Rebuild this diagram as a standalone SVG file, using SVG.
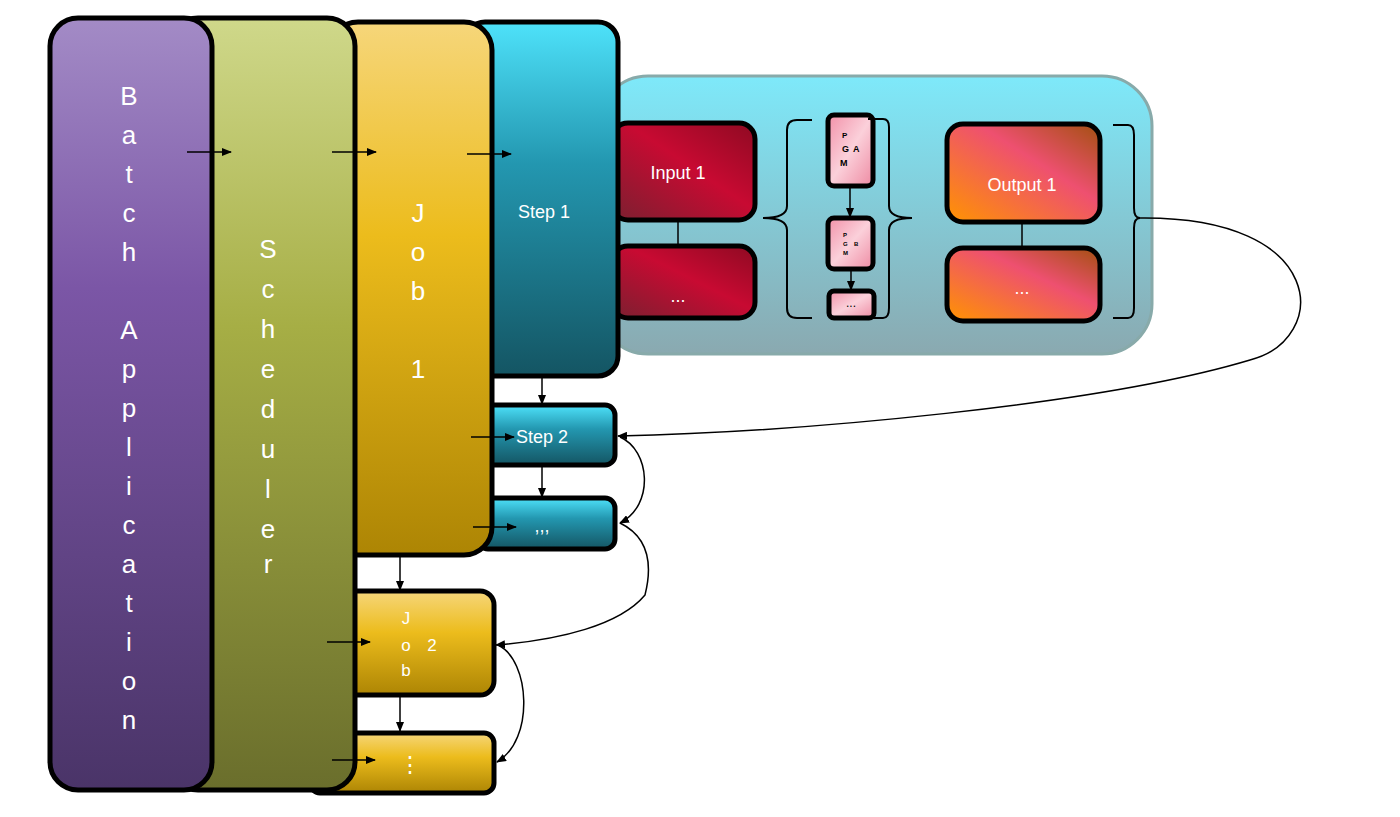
<svg xmlns="http://www.w3.org/2000/svg" width="1400" height="817" viewBox="0 0 1400 817">
<defs>
<linearGradient id="gP" x1="0" y1="0" x2="0" y2="1"><stop offset="0" stop-color="#a38bc6"/><stop offset="0.35" stop-color="#7b56a6"/><stop offset="1" stop-color="#4a3468"/></linearGradient>
<linearGradient id="gS" x1="0" y1="0" x2="0" y2="1"><stop offset="0" stop-color="#cfd88a"/><stop offset="0.4" stop-color="#a6ae45"/><stop offset="1" stop-color="#6a6e2c"/></linearGradient>
<linearGradient id="gJ" x1="0" y1="0" x2="0" y2="1"><stop offset="0" stop-color="#f6d67a"/><stop offset="0.4" stop-color="#ecbc1c"/><stop offset="1" stop-color="#ad8504"/></linearGradient>
<linearGradient id="gT" x1="0" y1="0" x2="0" y2="1"><stop offset="0" stop-color="#4ee2fa"/><stop offset="0.4" stop-color="#2397b0"/><stop offset="1" stop-color="#145563"/></linearGradient>
<linearGradient id="gL" x1="0" y1="0" x2="0" y2="1"><stop offset="0" stop-color="#7ee9fa"/><stop offset="1" stop-color="#8aa9b0"/></linearGradient>
<linearGradient id="gR" x1="0" y1="1" x2="1" y2="0"><stop offset="0" stop-color="#7a2030"/><stop offset="0.55" stop-color="#c80a32"/><stop offset="1" stop-color="#8e0a22"/></linearGradient>
<linearGradient id="gO" x1="0" y1="1" x2="1" y2="0"><stop offset="0" stop-color="#ff9400"/><stop offset="0.6" stop-color="#ee5070"/><stop offset="1" stop-color="#a35010"/></linearGradient>
<linearGradient id="gK" x1="0" y1="0" x2="1" y2="1"><stop offset="0" stop-color="#f290a8"/><stop offset="0.5" stop-color="#fbd0da"/><stop offset="1" stop-color="#ee8aa2"/></linearGradient>
<marker id="ar" markerWidth="10" markerHeight="8" refX="9" refY="4" orient="auto" markerUnits="userSpaceOnUse"><path d="M0,0 L10,4 L0,8 z" fill="#000"/></marker>
</defs>
<style>
.b{stroke:#000;stroke-width:5}
.t{fill:#fff;font-family:"Liberation Sans",Arial,sans-serif;text-anchor:middle}
.c{fill:none;stroke:#000;stroke-width:1.5}
.a{fill:none;stroke:#000;stroke-width:1.5;marker-end:url(#ar)}
.k{fill:none;stroke:#000;stroke-width:2}
</style>
<g id="panel">
<rect x="598" y="76" width="554" height="278" rx="50" fill="url(#gL)" stroke="#8aa" stroke-width="3"/>
<rect x="612" y="123" width="143" height="97" rx="16" fill="url(#gR)" class="b"/>
<text class="t" x="678" y="179" font-size="18">Input 1</text>
<rect x="612" y="246" width="143" height="72" rx="16" fill="url(#gR)" class="b"/>
<text class="t" x="678" y="302" font-size="18">...</text>
<line x1="678" y1="220" x2="678" y2="246" class="c"/>
<path d="M812,120 H797 Q787,120 787,130 V206 Q787,218 763,218 Q787,218 787,230 V308 Q787,318 797,318 H812" class="k"/>
<rect x="828" y="115" width="45" height="71" rx="6" fill="url(#gK)" class="b"/>
<text x="842" y="138" font-size="8" font-weight="bold" font-family="Liberation Sans,sans-serif">P</text>
<text x="842" y="152" font-size="9" font-weight="bold" font-family="Liberation Sans,sans-serif">G</text>
<text x="853" y="152" font-size="9" font-weight="bold" font-family="Liberation Sans,sans-serif">A</text>
<text x="840" y="166" font-size="9" font-weight="bold" font-family="Liberation Sans,sans-serif">M</text>
<rect x="828" y="218" width="45" height="51" rx="6" fill="url(#gK)" class="b"/>
<text x="843" y="237" font-size="6" font-weight="bold" font-family="Liberation Sans,sans-serif">P</text>
<text x="843" y="246" font-size="6" font-weight="bold" font-family="Liberation Sans,sans-serif">G</text>
<text x="854" y="246" font-size="6" font-weight="bold" font-family="Liberation Sans,sans-serif">B</text>
<text x="843" y="255" font-size="6" font-weight="bold" font-family="Liberation Sans,sans-serif">M</text>
<rect x="829" y="291" width="45" height="27" rx="5" fill="url(#gK)" class="b"/>
<text x="851" y="307" font-size="12" text-anchor="middle" font-family="Liberation Sans,sans-serif">...</text>
<line x1="850" y1="186" x2="850" y2="217" class="a"/>
<line x1="851" y1="269" x2="851" y2="290" class="a"/>
<path d="M868,119 H883 Q889,119 889,127 V206 Q889,218 912,218 Q889,218 889,230 V308 Q889,318 883,318 H868" class="k"/>
<rect x="947" y="124" width="153" height="98" rx="16" fill="url(#gO)" class="b"/>
<text class="t" x="1022" y="191" font-size="18">Output 1</text>
<rect x="947" y="248" width="153" height="73" rx="16" fill="url(#gO)" class="b"/>
<text class="t" x="1022" y="294" font-size="18">...</text>
<line x1="1022" y1="222" x2="1022" y2="248" class="c"/>
<path d="M1113,125 H1128 Q1134,125 1134,135 V208 Q1134,218 1140,218 Q1134,218 1134,228 V308 Q1134,318 1128,318 H1113" class="k"/>
</g>
<g id="step2"><rect x="478" y="405" width="137" height="60" rx="10" fill="url(#gT)" class="b"/><text class="t" x="542" y="443" font-size="18">Step 2</text></g>
<g id="stepmore"><rect x="478" y="498" width="137" height="51" rx="10" fill="url(#gT)" class="b"/><text class="t" x="542" y="532" font-size="18">,,,</text></g>
<g id="step1"><rect x="465" y="22" width="153" height="354" rx="20" fill="url(#gT)" class="b"/><text class="t" x="544" y="218" font-size="18">Step 1</text></g>
<g id="job1"><rect x="330" y="22" width="162" height="533" rx="28" fill="url(#gJ)" class="b"/>
<text class="t" x="418" y="222" font-size="26">J</text><text class="t" x="418" y="261" font-size="26">o</text><text class="t" x="418" y="300" font-size="26">b</text><text class="t" x="418" y="378" font-size="26">1</text></g>
<g id="job2"><rect x="330" y="591" width="164" height="104" rx="14" fill="url(#gJ)" class="b"/>
<text class="t" x="406" y="624" font-size="17">J</text><text class="t" x="406" y="651" font-size="17">o</text><text class="t" x="432" y="651" font-size="17">2</text><text class="t" x="406" y="676" font-size="17">b</text></g>
<g id="jobmore"><rect x="310" y="733" width="184" height="60" rx="10" fill="url(#gJ)" class="b"/><text class="t" x="410" y="772" font-size="22">⋮</text></g>
<g id="scheduler"><rect x="170" y="18" width="185" height="772" rx="28" fill="url(#gS)" class="b"/>
<text class="t" x="268" y="258" font-size="26">S</text><text class="t" x="268" y="298" font-size="26">c</text><text class="t" x="268" y="338" font-size="26">h</text><text class="t" x="268" y="378" font-size="26">e</text><text class="t" x="268" y="418" font-size="26">d</text><text class="t" x="268" y="458" font-size="26">u</text><text class="t" x="268" y="498" font-size="26">l</text><text class="t" x="268" y="538" font-size="26">e</text><text class="t" x="268" y="573" font-size="26">r</text></g>
<g id="batch"><rect x="50" y="18" width="162" height="772" rx="28" fill="url(#gP)" class="b"/>
<g font-size="26" class="t">
<text class="t" x="129" y="105">B</text><text class="t" x="129" y="144">a</text><text class="t" x="129" y="183">t</text><text class="t" x="129" y="222">c</text><text class="t" x="129" y="261">h</text>
<text class="t" x="129" y="339">A</text><text class="t" x="129" y="378">p</text><text class="t" x="129" y="417">p</text><text class="t" x="129" y="456">l</text><text class="t" x="129" y="495">i</text><text class="t" x="129" y="534">c</text><text class="t" x="129" y="573">a</text><text class="t" x="129" y="612">t</text><text class="t" x="129" y="651">i</text><text class="t" x="129" y="690">o</text><text class="t" x="129" y="729">n</text></g></g>
<g id="connectors">
<line x1="187" y1="152" x2="231" y2="152" class="a"/>
<line x1="332" y1="152" x2="376" y2="152" class="a"/>
<line x1="467" y1="154" x2="511" y2="154" class="a"/>
<line x1="542" y1="376" x2="542" y2="404" class="a"/>
<line x1="471" y1="437" x2="514" y2="437" class="a"/>
<line x1="542" y1="467" x2="542" y2="497" class="a"/>
<line x1="473" y1="527" x2="516" y2="527" class="a"/>
<line x1="400" y1="557" x2="400" y2="590" class="a"/>
<line x1="327" y1="642" x2="370" y2="642" class="a"/>
<line x1="400" y1="697" x2="400" y2="731" class="a"/>
<line x1="332" y1="760" x2="375" y2="760" class="a"/>
<path d="M1138,218 C1330,215 1330,340 1250,360 C1100,405 800,432 618,436" class="a"/>
<path d="M620,437 C650,450 655,505 620,523" class="a"/>
<path d="M620,523 C655,540 650,575 645,595 C620,625 560,640 496,645" class="a"/>
<path d="M498,645 C530,660 535,740 497,762" class="a"/>
</g>
</svg>
